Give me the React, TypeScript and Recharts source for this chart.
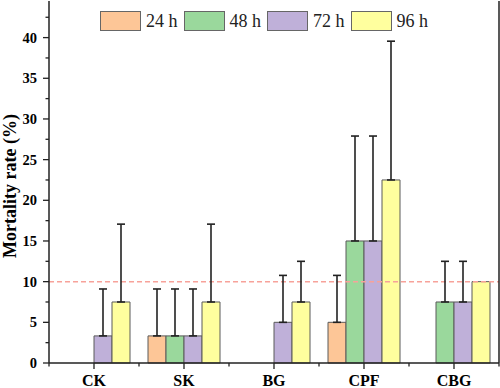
import { Bar, BarChart, ErrorBar, Legend, ReferenceLine, XAxis, YAxis } from "recharts"

const categories = ["CK", "SK", "BG", "CPF", "CBG"]
const h24 = [0, 3.33, 0, 5, 0]
const h48 = [0, 3.33, 0, 15, 7.5]
const h72 = [3.33, 3.33, 5, 15, 7.5]
const h96 = [7.5, 7.5, 7.5, 22.5, 10]
const sd24 = [null, 5.77, null, 5.77, null]
const sd48 = [null, 5.77, null, 12.9, 5]
const sd72 = [5.77, 5.77, 5.77, 12.9, 5]
const sd96 = [9.57, 9.57, 5, 17.06, null]
const yTicks = [0, 2.5, 5, 7.5, 10, 12.5, 15, 17.5, 20, 22.5, 25, 27.5, 30, 32.5, 35, 37.5, 40, 42.5]

const up = (v: number | null) => (v == null ? null : [0, v])

const data = categories.map((name, i) => ({
  name,
  h24: h24[i], h48: h48[i], h72: h72[i], h96: h96[i],
  e24: up(sd24[i]), e48: up(sd48[i]), e72: up(sd72[i]), e96: up(sd96[i]),
}))

const FONT = '"Liberation Serif", "Times New Roman", serif'
const AXIS = "#222"
const bold = { fontFamily: FONT, fontWeight: 700 }

const YTick = (props: any) => {
  const { x, y, payload } = props
  const major = payload.value % 5 === 0
  return (
    <g>
      <line x1={x} x2={x - (major ? 6 : 3.5)} y1={y} y2={y} stroke={AXIS} strokeWidth={1.3} />
      {major && (
        <text x={x - 12} y={y} textAnchor="end" dominantBaseline="central" fontSize={14.5} fill="#000" style={bold}>
          {payload.value}
        </text>
      )}
    </g>
  )
}

const XTick = (props: any) => {
  const { x, y, payload, index, visibleTicksCount } = props
  const half = payload.offset || 45
  return (
    <g>
      <line x1={x} x2={x} y1={y} y2={y + 6} stroke={AXIS} strokeWidth={1.3} />
      <line x1={x - half} x2={x - half} y1={y} y2={y + 3.5} stroke={AXIS} strokeWidth={1.3} />
      {index === visibleTicksCount - 1 && (
        <line x1={x + half} x2={x + half} y1={y} y2={y + 3.5} stroke={AXIS} strokeWidth={1.3} />
      )}
      <text x={x} y={y + 23} textAnchor="middle" fontSize={16} fill="#000" style={bold}>
        {payload.value}
      </text>
    </g>
  )
}

const YLabel = (props: any) => {
  const { viewBox } = props
  const cx = viewBox.x + 10
  const cy = viewBox.y + viewBox.height / 2 + 4
  return (
    <text x={cx} y={cy} transform={`rotate(-90 ${cx} ${cy})`} textAnchor="middle" dominantBaseline="central" fontSize={18} fill="#000" style={bold}>
      Mortality rate (%)
    </text>
  )
}

const LegendContent = (props: any) => (
  <div style={{ display: "flex", fontFamily: FONT }}>
    {props.payload.map((p: any) => (
      <div key={p.value} style={{ display: "flex", alignItems: "center", marginRight: 6 }}>
        <span style={{ display: "inline-block", width: 41, height: 20, boxSizing: "border-box", background: p.color, border: "1px solid #666", marginRight: 5 }} />
        <span style={{ fontSize: 18, lineHeight: "20px", color: "#222" }}>{p.value}</span>
      </div>
    ))}
  </div>
)

const bars = [
  { key: "h24", err: "e24", name: "24 h", fill: "#FDC697" },
  { key: "h48", err: "e48", name: "48 h", fill: "#9AD89C" },
  { key: "h72", err: "e72", name: "72 h", fill: "#BFB0D9" },
  { key: "h96", err: "e96", name: "96 h", fill: "#FFFF9E" },
]

export default function App() {
  return (
    <div style={{ position: "absolute", left: 0, top: 0, background: "#fff" }}>
      <BarChart
        width={500}
        height={388}
        data={data}
        margin={{ top: 1, right: 0, bottom: 0, left: 0 }}
        barCategoryGap="10%"
        barGap={0}
        style={{ fontFamily: FONT }}
      >
        <XAxis dataKey="name" height={25} tickSize={0} tickMargin={0} tick={<XTick />} axisLine={{ stroke: AXIS, strokeWidth: 1.5 }} tickLine={false} />
        <XAxis xAxisId="top" orientation="top" dataKey="name" height={0} tick={false} tickLine={false} axisLine={{ stroke: AXIS, strokeWidth: 1.5 }} />
        <YAxis
          type="number"
          domain={[0, 44.5]}
          ticks={yTicks}
          width={49}
          tickSize={0}
          tickMargin={0}
          interval={0}
          tick={<YTick />}
          tickLine={false}
          axisLine={{ stroke: AXIS, strokeWidth: 1.5 }}
          label={<YLabel />}
        />
        <YAxis yAxisId="right" orientation="right" type="number" domain={[0, 44.5]} width={1} tick={false} tickLine={false} axisLine={{ stroke: AXIS, strokeWidth: 1.5 }} />
        <Legend verticalAlign="middle" align="center" layout="horizontal" content={<LegendContent />} wrapperStyle={{ top: 11, left: 100, width: "auto" }} />
        <ReferenceLine y={10} stroke="#F7A29A" strokeDasharray="5 3" strokeWidth={1.5} />
        {bars.map((b) => (
          <Bar key={b.key} dataKey={b.key} name={b.name} fill={b.fill} stroke="#5a5a5a" strokeWidth={1} isAnimationActive={false}>
            <ErrorBar dataKey={b.err} direction="y" width={4} stroke="#222" strokeWidth={1.6} isAnimationActive={false} />
          </Bar>
        ))}
      </BarChart>
    </div>
  )
}
